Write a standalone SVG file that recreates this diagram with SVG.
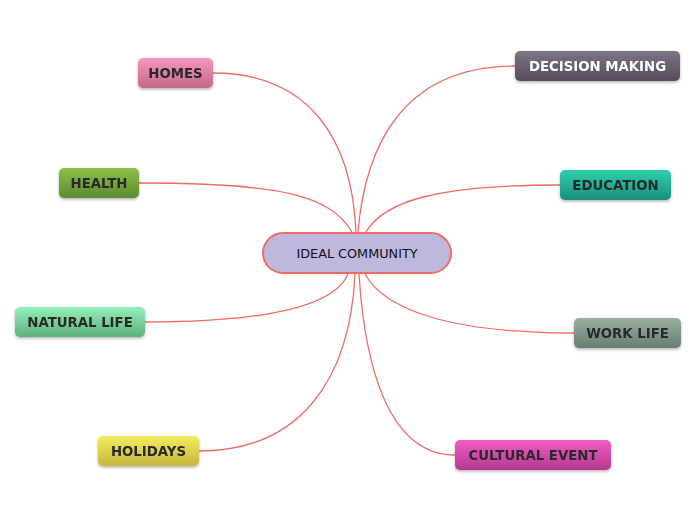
<svg xmlns="http://www.w3.org/2000/svg" width="696" height="520" viewBox="0 0 696 520">
<style>
.c{fill:none;stroke:#f26a63;stroke-width:1.3}
.t{font-family:"DejaVu Sans",Verdana,sans-serif;font-weight:bold;font-size:13.3px;fill:#2a2a2a;text-anchor:middle}
.w{fill:#fff}
</style>
<defs>
<filter id="s" x="-20%" y="-30%" width="140%" height="170%"><feDropShadow dx="0" dy="1.5" stdDeviation="1.5" flood-opacity="0.3"/></filter>
<linearGradient id="g1" x1="0" y1="0" x2="0" y2="1"><stop offset="0" stop-color="#f795be"/><stop offset="1" stop-color="#c36a8b"/></linearGradient>
<linearGradient id="g2" x1="0" y1="0" x2="0" y2="1"><stop offset="0" stop-color="#8ec04a"/><stop offset="1" stop-color="#5d8a2e"/></linearGradient>
<linearGradient id="g3" x1="0" y1="0" x2="0" y2="1"><stop offset="0" stop-color="#94efba"/><stop offset="1" stop-color="#5fb07f"/></linearGradient>
<linearGradient id="g4" x1="0" y1="0" x2="0" y2="1"><stop offset="0" stop-color="#f5ec5e"/><stop offset="1" stop-color="#c5b53e"/></linearGradient>
<linearGradient id="g5" x1="0" y1="0" x2="0" y2="1"><stop offset="0" stop-color="#7e7285"/><stop offset="1" stop-color="#574c5e"/></linearGradient>
<linearGradient id="g6" x1="0" y1="0" x2="0" y2="1"><stop offset="0" stop-color="#2ecfae"/><stop offset="1" stop-color="#1a8f7c"/></linearGradient>
<linearGradient id="g7" x1="0" y1="0" x2="0" y2="1"><stop offset="0" stop-color="#98b0a0"/><stop offset="1" stop-color="#687e6f"/></linearGradient>
<linearGradient id="g8" x1="0" y1="0" x2="0" y2="1"><stop offset="0" stop-color="#ef5ec6"/><stop offset="1" stop-color="#b5388e"/></linearGradient>
</defs>
<g id="connectors">
<path class="c" d="M213,73 C310,73 352,140 356,232"/>
<path class="c" d="M139,183 C280,183 330,195 352,232"/>
<path class="c" d="M145,322 C270,322 335,305 348,274"/>
<path class="c" d="M199,451 C300,451 350,380 355,274"/>
<path class="c" d="M515,66 C400,66 365,150 358,232"/>
<path class="c" d="M560,185 C440,185 385,200 366,232"/>
<path class="c" d="M574,333 C450,333 385,310 365,274"/>
<path class="c" d="M455,455 C390,455 365,370 359,274"/>
</g>
<g id="center"><rect x="263" y="233" width="188" height="40" rx="20" fill="#bdb8dc" stroke="#f26a63" stroke-width="2"/><text x="357" y="258" font-family="'DejaVu Sans',Verdana,sans-serif" font-size="12.8" fill="#111" text-anchor="middle">IDEAL COMMUNITY</text></g>
<g id="homes" filter="url(#s)"><rect x="138" y="58" width="75" height="30" rx="5" fill="url(#g1)"/><text class="t" x="175.5" y="78">HOMES</text></g>
<g id="health" filter="url(#s)"><rect x="59" y="168" width="80" height="30" rx="5" fill="url(#g2)"/><text class="t" x="99" y="188">HEALTH</text></g>
<g id="natural" filter="url(#s)"><rect x="15" y="307" width="130" height="30" rx="5" fill="url(#g3)"/><text class="t" x="80" y="327">NATURAL LIFE</text></g>
<g id="holidays" filter="url(#s)"><rect x="98" y="436" width="101" height="30" rx="5" fill="url(#g4)"/><text class="t" x="148.5" y="456">HOLIDAYS</text></g>
<g id="decision" filter="url(#s)"><rect x="515" y="51" width="165" height="30" rx="5" fill="url(#g5)"/><text class="t w" x="597.5" y="71">DECISION MAKING</text></g>
<g id="education" filter="url(#s)"><rect x="560" y="170" width="111" height="30" rx="5" fill="url(#g6)"/><text class="t" x="615.5" y="190">EDUCATION</text></g>
<g id="work" filter="url(#s)"><rect x="574" y="318" width="107" height="30" rx="5" fill="url(#g7)"/><text class="t" x="627.5" y="338">WORK LIFE</text></g>
<g id="cultural" filter="url(#s)"><rect x="455" y="440" width="156" height="30" rx="5" fill="url(#g8)"/><text class="t" x="533" y="460">CULTURAL EVENT</text></g>
</svg>
